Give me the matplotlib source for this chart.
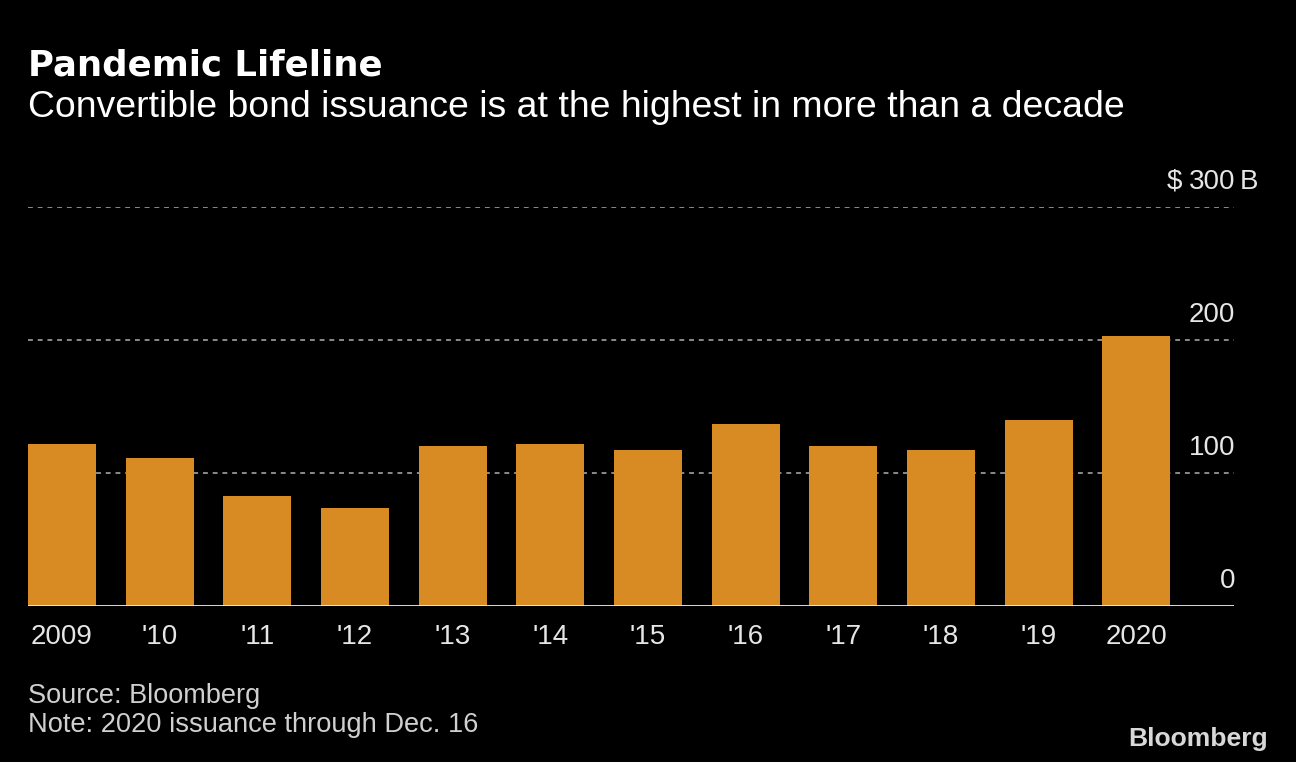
import matplotlib
matplotlib.use("Agg")
import matplotlib.pyplot as plt

years = ["2009", "'10", "'11", "'12", "'13", "'14", "'15", "'16", "'17", "'18", "'19", "2020"]
issuance = [121.3, 111.0, 82.4, 73.3, 119.8, 121.3, 116.8, 136.4, 119.8, 117.0, 139.5, 202.8]
yticks = [0, 100, 200, 300]
ytick_labels = ["0", "100", "200", "300"]

title = "Pandemic Lifeline"
subtitle = "Convertible bond issuance is at the highest in more than a decade"
source = "Source: Bloomberg"
note = "Note: 2020 issuance through Dec. 16"

BG = "#000000"
BAR = "#D98B23"
TXT = "#E6E6E6"
GRID = "#8a8a8a"

W, H = 1296, 762
fig = plt.figure(figsize=(W / 100, H / 100), dpi=100, facecolor=BG)
ax = fig.add_axes([28 / W, (H - 605.5) / H, 1206 / W, (605.5 - 206.7) / H])
ax.set_facecolor(BG)

x = list(range(len(years)))
ax.bar(x, issuance, width=0.696, color=BAR, zorder=3)
ax.set_xlim(-0.348, 12.0)
ax.set_ylim(0, 300)

for v in yticks[1:]:
    ax.axhline(v, color=GRID, lw=1.4, ls=(0, (2.5, 2.5)), zorder=1)
ax.axhline(0, color="#F0F0F0", lw=2, zorder=4)

for s in ax.spines.values():
    s.set_visible(False)
ax.set_yticks([])
ax.set_xticks(x)
ax.set_xticklabels(years, fontsize=20, color=TXT, family=["Liberation Sans", "DejaVu Sans"])
ax.tick_params(axis="x", length=0, pad=13)

ytr = ax.get_yaxis_transform()
for v, lab in zip(yticks, ytick_labels):
    ax.annotate(lab, xy=(1.0, v), xycoords=ytr, xytext=(1, 18), textcoords="offset pixels",
                ha="right", va="baseline", fontsize=20, color=TXT, family="Liberation Sans")
ax.annotate("$", xy=(1.0, 300), xycoords=ytr, xytext=(-52, 18), textcoords="offset pixels",
            ha="right", va="baseline", fontsize=20, color=TXT, family="Liberation Sans")
ax.annotate("B", xy=(1.0, 300), xycoords=ytr, xytext=(6, 18), textcoords="offset pixels",
            ha="left", va="baseline", fontsize=20, color=TXT, family="Liberation Sans")

fig.canvas.draw()
renderer = fig.canvas.get_renderer()


def fitted_text(xpx, ypx_base, s, target_w, size, **kw):
    t = fig.text(xpx / W, 1 - ypx_base / H, s, fontsize=size, va="baseline", **kw)
    w = t.get_window_extent(renderer).width
    t.set_fontsize(size * target_w / w)
    return t


fitted_text(28, 76, title, 355, 26, color="white", weight="bold", family="DejaVu Sans")
fitted_text(28, 117, subtitle, 1097, 24, color="white", family="Liberation Sans")
fitted_text(28, 703, source, 232, 17, color="#D0D0D0", family="Liberation Sans")
fitted_text(28, 732, note, 450, 17, color="#D0D0D0", family="Liberation Sans")
fitted_text(1128, 746, "Bloomberg", 140, 18, color="#D8D8D8", weight="bold", family="Liberation Sans")

fig.savefig("out.png", dpi=100, facecolor=BG)
